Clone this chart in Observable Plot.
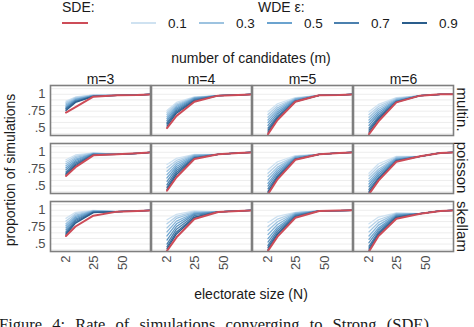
<!DOCTYPE html>
<html><head><meta charset="utf-8">
<script src="https://cdn.jsdelivr.net/npm/d3@7"></script>
<script src="https://cdn.jsdelivr.net/npm/@observablehq/plot@0.6"></script>
<style>
body{margin:0;background:#fff;}
#wrap{position:relative;width:474px;height:327px;overflow:hidden;font-family:"Liberation Sans",Arial,sans-serif;color:#1a1a1a;}
.t{position:absolute;white-space:nowrap;line-height:1;}
.sw{position:absolute;height:2px;}
#chart{position:absolute;left:0;top:0;}
</style></head><body>
<div id="wrap"><div id="chart"></div></div>
<script>
// ---- data ----
const N = [2, 10, 25, 45, 62, 75];
const eps = [0.1, 0.2, 0.3, 0.4, 0.5, 0.6, 0.7, 0.8, 0.9];
const legendEps = [0.1, 0.3, 0.5, 0.7, 0.9];
const models = ["multin.", "poisson", "skellam"];
const ms = [3, 4, 5, 6];
const xTicks = [2, 25, 50];
const yTicks = [0.5, 0.75, 1];
const gridVals = [0.4167, 0.5, 0.5833, 0.6667, 0.75, 0.8333, 0.9167, 1, 1.0833];

// SDE proportion at each N, per model row, per m column
const sdeMultin  = [[0.73,0.81,0.965,0.985,0.99,1.0],[0.50,0.68,0.89,0.98,0.99,1.0],[0.41,0.62,0.89,0.985,0.99,1.0],[0.41,0.60,0.88,0.98,1.0,1.0]];
const sdePoisson = [[0.65,0.78,0.955,0.97,0.985,1.0],[0.43,0.63,0.90,0.97,0.99,1.0],[0.38,0.60,0.89,0.97,0.99,1.0],[0.38,0.58,0.86,0.94,0.99,1.0]];
const sdeSkellam = [[0.62,0.76,0.92,0.98,0.99,1.0],[0.40,0.60,0.87,0.975,0.99,1.0],[0.40,0.61,0.89,0.99,0.995,1.0],[0.39,0.62,0.875,0.95,0.99,1.0]];

// WDE proportion for eps 0.1..0.9 at N = 2, 10, 25
const wdeMultinN2  = [[0.90,0.88,0.86,0.84,0.82,0.80,0.79,0.78,0.76],[0.76,0.73,0.70,0.67,0.64,0.61,0.58,0.56,0.53],[0.74,0.70,0.66,0.62,0.58,0.54,0.50,0.47,0.44],[0.74,0.70,0.66,0.62,0.58,0.54,0.50,0.47,0.44]];
const wdeMultinN10 = [[0.96,0.95,0.94,0.93,0.92,0.91,0.90,0.89,0.88],[0.88,0.86,0.84,0.82,0.80,0.78,0.76,0.74,0.72],[0.86,0.83,0.80,0.77,0.74,0.71,0.68,0.66,0.64],[0.85,0.82,0.79,0.76,0.73,0.70,0.67,0.65,0.63]];
const wdeMultinN25 = [[0.99,0.99,0.985,0.98,0.98,0.975,0.97,0.97,0.97],[0.96,0.955,0.95,0.945,0.94,0.93,0.92,0.91,0.90],[0.95,0.94,0.935,0.93,0.92,0.91,0.90,0.90,0.89],[0.95,0.94,0.93,0.92,0.91,0.90,0.895,0.89,0.885]];
const wdePoissonN2  = [[0.89,0.86,0.83,0.80,0.77,0.74,0.71,0.69,0.67],[0.82,0.77,0.72,0.67,0.62,0.57,0.52,0.48,0.45],[0.74,0.69,0.64,0.59,0.54,0.50,0.46,0.42,0.40],[0.69,0.65,0.61,0.57,0.53,0.49,0.45,0.42,0.40]];
const wdePoissonN10 = [[0.96,0.94,0.92,0.90,0.88,0.86,0.84,0.82,0.80],[0.91,0.88,0.85,0.82,0.79,0.76,0.73,0.70,0.67],[0.86,0.82,0.78,0.75,0.72,0.69,0.66,0.64,0.62],[0.83,0.79,0.75,0.72,0.69,0.66,0.63,0.61,0.60]];
const wdePoissonN25 = [[0.99,0.99,0.985,0.98,0.98,0.975,0.97,0.965,0.96],[0.97,0.965,0.96,0.95,0.94,0.93,0.92,0.915,0.91],[0.95,0.94,0.935,0.93,0.92,0.91,0.90,0.90,0.895],[0.94,0.93,0.92,0.91,0.90,0.89,0.88,0.875,0.87]];
const wdeSkellamN2  = [[0.88,0.84,0.80,0.77,0.74,0.71,0.68,0.66,0.64],[0.86,0.80,0.74,0.68,0.62,0.56,0.50,0.46,0.43],[0.82,0.76,0.70,0.64,0.58,0.53,0.48,0.45,0.42],[0.80,0.74,0.68,0.62,0.57,0.52,0.47,0.44,0.41]];
const wdeSkellamN10 = [[0.97,0.95,0.93,0.91,0.89,0.87,0.85,0.83,0.81],[0.94,0.91,0.88,0.84,0.80,0.76,0.72,0.68,0.65],[0.91,0.87,0.83,0.79,0.75,0.72,0.69,0.66,0.64],[0.90,0.86,0.82,0.78,0.74,0.71,0.68,0.66,0.64]];
const wdeSkellamN25 = [[1.0,0.995,0.99,0.99,0.985,0.98,0.975,0.97,0.965],[0.99,0.98,0.97,0.96,0.95,0.94,0.92,0.90,0.89],[0.97,0.965,0.96,0.95,0.94,0.93,0.92,0.91,0.90],[0.96,0.955,0.95,0.94,0.93,0.92,0.91,0.90,0.89]];

const sdeColor = "#cd4c58";
const blueDomain = [0.1, 0.5, 0.9];
const blueRange = ["#cfe2f1", "#6ba3cf", "#2a5d8c"];

// ---- build tidy tables ----
const sdeRows = {"multin.": sdeMultin, "poisson": sdePoisson, "skellam": sdeSkellam};
const wdeRows = {
  "multin.": [wdeMultinN2, wdeMultinN10, wdeMultinN25],
  "poisson": [wdePoissonN2, wdePoissonN10, wdePoissonN25],
  "skellam": [wdeSkellamN2, wdeSkellamN10, wdeSkellamN25]
};
const sdeData = [], wdeData = [];
for (const model of models) {
  ms.forEach((m, j) => {
    const s = sdeRows[model][j];
    N.forEach((n, k) => sdeData.push({model, m, N: n, value: s[k]}));
    eps.forEach((e, i) => {
      const early = wdeRows[model].map(a => a[j][i]);
      N.forEach((n, k) => {
        // after N=25 the WDE curves lie on the SDE curve
        const v = k < 3 ? early[k] : s[k];
        wdeData.push({model, m, N: n, eps: e, value: v});
      });
    });
  });
}

const fmt = d => d === 1 ? "1" : String(d).replace(/^0/, "");

const chart = Plot.plot({
  width: 474, height: 300,
  marginTop: 84, marginBottom: 49, marginLeft: 49, marginRight: 21,
  style: {fontFamily: "Liberation Sans, Arial, sans-serif", background: "transparent"},
  x: {domain: [-11, 73]},
  y: {domain: [0.39, 1.13]},
  fx: {domain: ms, paddingInner: 0.013, paddingOuter: 0},
  fy: {domain: models, paddingInner: 0.145, paddingOuter: 0, axis: null},
  color: {type: "linear", domain: blueDomain, range: blueRange},
  marks: [
    Plot.gridY(gridVals, {stroke: "#e8e8e8", strokeOpacity: 1, strokeWidth: 0.8}),
    Plot.line(wdeData, {x: "N", y: "value", z: "eps", stroke: "eps", fx: "m", fy: "model", strokeWidth: 1.3, clip: true}),
    Plot.line(sdeData, {x: "N", y: "value", fx: "m", fy: "model", stroke: sdeColor, strokeWidth: 2, clip: true}),
    Plot.frame({stroke: "#7f7f7f", strokeWidth: 1.6}),
    Plot.axisX({ticks: xTicks, tickRotate: -90, tickSize: 0, tickPadding: 4, label: null, fontSize: 13, fill: "#4d4d4d"}),
    Plot.axisY({ticks: yTicks, tickFormat: fmt, tickSize: 0, tickPadding: 5, label: null, fontSize: 13, fill: "#4d4d4d"}),
    Plot.axisFx({anchor: "top", tickFormat: d => "m=" + d, label: null, fontSize: 14, fill: "#1a1a1a", tickPadding: 2})
  ]
});
document.getElementById("chart").appendChild(chart);

// ---- legend, titles, strip labels, caption ----
const wrap = document.getElementById("wrap");
function addText(txt, left, top, size, extra) {
  const d = document.createElement("div");
  d.className = "t"; d.textContent = txt;
  d.style.left = left + "px"; d.style.top = top + "px"; d.style.fontSize = size + "px";
  if (extra) Object.assign(d.style, extra);
  wrap.appendChild(d); return d;
}
function addSwatch(left, top, w, color) {
  const d = document.createElement("div");
  d.className = "sw"; d.style.left = left + "px"; d.style.top = top + "px";
  d.style.width = w + "px"; d.style.background = color; wrap.appendChild(d);
}
const colorScale = chart.scale("color");
addText("SDE:", 62, 0, 14);
addText("WDE \u03B5:", 258, 0, 14);
addSwatch(62, 22, 26, sdeColor);
const swX = [131, 199, 267, 334, 402];
legendEps.forEach((e, i) => {
  addSwatch(swX[i], 22, 25, colorScale.apply(e));
  addText(String(e), swX[i] + 37, 17, 13.5);
});
// right-hand strip labels, reading top to bottom
const fyCenters = [109, 167, 226];
models.forEach((mo, i) => {
  addText(mo, 0, 0, 15, {left: (462 - 40) + "px", top: (fyCenters[i] - 7.5) + "px", width: "80px", textAlign: "center", transform: "rotate(90deg)"});
});
addText("number of candidates (m)", 0, 51, 14, {width: "502px", textAlign: "center"});
addText("electorate size (N)", 0, 287, 14, {width: "502px", textAlign: "center"});
addText("proportion of simulations", 0, 0, 14, {left: "-80px", top: "163px", width: "180px", textAlign: "center", transform: "rotate(-90deg)"});
addText("Figure 4: Rate of simulations converging to Strong (SDE)", -1, 317, 16.5, {fontFamily: "Liberation Serif, serif", wordSpacing: "6px"});
</script>
</body></html>
